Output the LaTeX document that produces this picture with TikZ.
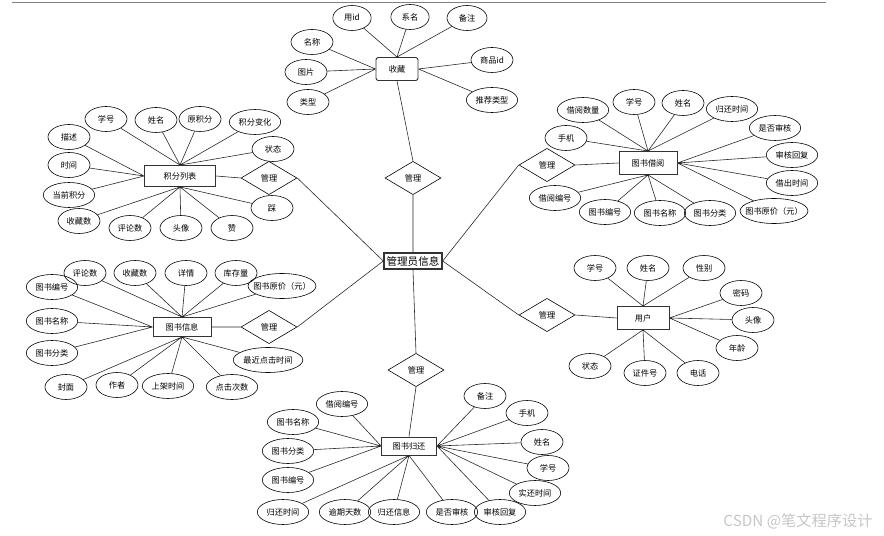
\documentclass[tikz,border=0pt]{standalone}
\usepackage{fontspec}
\usepackage{tikz}
\usetikzlibrary{shapes.geometric}
\newfontfamily\cjk{Noto Sans CJK SC}

\begin{document}
\begin{tikzpicture}[x=0.03cm, y=-0.03cm, font=\cjk\fontsize{7}{8}\selectfont,
			entity/.style={draw=black!80, rectangle, line width=0.8pt, minimum height=0.66cm, inner sep=1pt},
			attr/.style={draw, ellipse, line width=0.5pt, minimum width=1.26cm, minimum height=0.75cm, inner xsep=1.5pt, inner ysep=0pt},
			attrwide/.style={attr, inner xsep=0pt},
			attrlong/.style={attr, inner xsep=-4pt},
			relation/.style={draw, diamond, line width=0.5pt, minimum width=1.68cm, minimum height=1cm, inner sep=0pt},
			link/.style={draw=black!85, line width=0.5pt}
			]
			\useasboundingbox (0,0) rectangle (884,536);
			\draw[gray, line width=0.8pt] (12,2) -- (826,2);
			
			\node [entity, line width=1.2pt, minimum width=1.74cm, minimum height=0.48cm, font=\cjk\fontsize{9}{10}\selectfont](admin) at (413,261) {管理员信息};
			
			\node [relation](m1) at (413,178) {管理};
			\node [relation](m2) at (269,178) {管理};
			\node [relation](m3) at (547,165) {管理};
			\node [relation](m4) at (269,327) {管理};
			\node [relation](m5) at (547,315) {管理};
			\node [relation](m6) at (416,370) {管理};
			
			\node [entity, rounded corners=2pt, minimum width=1.26cm, minimum height=0.69cm](fav) at (397,69) {收藏};
			\node [attr, minimum width=1.15cm](fav1) at (352,18) {用id};
			\node [attr, minimum width=1.15cm](fav2) at (410,17) {系名};
			\node [attr, minimum width=1.2cm](fav3) at (467,18) {备注};
			\node [attr](fav4) at (312,42) {名称};
			\node [attr](fav5) at (306,72) {图片};
			\node [attr](fav6) at (308,102) {类型};
			\node [attr](fav7) at (492,60) {商品id};
			\node [attr](fav8) at (492,100) {推荐类型};
			
			\node [entity, minimum width=2.13cm, minimum height=0.63cm](pt) at (180,176) {积分列表};
			\node [attr](pt1) at (106,119) {学号};
			\node [attr](pt2) at (156,120) {姓名};
			\node [attr](pt3) at (200,119) {原积分};
			\node [attr](pt4) at (255,122) {积分变化};
			\node [attr](pt5) at (273,149) {状态};
			\node [attr](pt6) at (69,137) {描述};
			\node [attr](pt7) at (69,165) {时间};
			\node [attr](pt8) at (69,195) {当前积分};
			\node [attr](pt9) at (79,221) {收藏数};
			\node [attr](pt10) at (130,228) {评论数};
			\node [attr](pt11) at (181,228) {头像};
			\node [attr](pt12) at (232,228) {赞};
			\node [attr](pt13) at (272,208) {踩};
			
			\node [entity, minimum width=1.74cm, minimum height=0.69cm](br) at (648,163) {图书借阅};
			\node [attr](br1) at (583,110) {借阅数量};
			\node [attr](br2) at (634,102) {学号};
			\node [attr](br3) at (683,103) {姓名};
			\node [attr](br4) at (732,109) {归还时间};
			\node [attr](br5) at (566,138) {手机};
			\node [attr](br6) at (775,128) {是否审核};
			\node [attr](br7) at (792,155) {审核回复};
			\node [attr](br8) at (792,183) {借出时间};
			\node [attrlong](br9) at (774,211) {图书原价（元）};
			\node [attr](br10) at (555,198) {借阅编号};
			\node [attr](br11) at (605,212) {图书编号};
			\node [attr](br12) at (660,213) {图书名称};
			\node [attr](br13) at (710,213) {图书分类};
			
			\node [entity, minimum width=1.74cm, minimum height=0.57cm](bk) at (182,327) {图书信息};
			\node [attr](bk1) at (85,273) {评论数};
			\node [attr](bk2) at (135,273) {收藏数};
			\node [attr](bk3) at (186,273) {详情};
			\node [attr](bk4) at (236,273) {库存量};
			\node [attrlong](bk5) at (282,286) {图书原价（元）};
			\node [attr](bk6) at (52,287) {图书编号};
			\node [attr](bk7) at (52,321) {图书名称};
			\node [attr](bk8) at (52,353) {图书分类};
			\node [attrwide](bk9) at (268,360) {最近点击时间};
			\node [attr](bk10) at (66,387) {封面};
			\node [attr](bk11) at (117,385) {作者};
			\node [attr](bk12) at (168,386) {上架时间};
			\node [attr](bk13) at (232,387) {点击次数};
			
			\node [entity, minimum width=1.56cm, minimum height=0.69cm](us) at (643,318) {用户};
			\node [attr](us1) at (595,268) {学号};
			\node [attr](us2) at (648,268) {姓名};
			\node [attr](us3) at (704,268) {性别};
			\node [attr](us4) at (741,293) {密码};
			\node [attr](us5) at (753,320) {头像};
			\node [attr](us6) at (737,348) {年龄};
			\node [attr](us7) at (590,366) {状态};
			\node [attr](us8) at (645,373) {证件号};
			\node [attr](us9) at (698,373) {电话};
			
			\node [entity, minimum width=1.65cm, minimum height=0.54cm](rt) at (409,446) {图书归还};
			\node [attr](rt1) at (342,404) {借阅编号};
			\node [attr](rt2) at (293,422) {图书名称};
			\node [attr](rt3) at (288,451) {图书分类};
			\node [attr](rt4) at (288,480) {图书编号};
			\node [attr](rt5) at (283,512) {归还时间};
			\node [attr](rt6) at (345,512) {逾期天数};
			\node [attr](rt7) at (394,512) {归还信息};
			\node [attr](rt8) at (452,512) {是否审核};
			\node [attr](rt9) at (500,512) {审核回复};
			\node [attr](rt10) at (485,396) {备注};
			\node [attr](rt11) at (527,413) {手机};
			\node [attr](rt12) at (542,442) {姓名};
			\node [attr](rt13) at (548,468) {学号};
			\node [attr](rt14) at (535,493) {实还时间};
			
			\node [text=gray!45, font=\fontsize{13}{15}\selectfont\cjk](mark) at (798,521) {CSDN @笔文程序设计};
			
			\draw[link] (admin.north) -- (m1.south) (m1.north) -- (fav.south);
			\draw[link] (admin.west) -- (m2.east) (m2.west) -- (pt.east);
			\draw[link] (admin.east) -- (m3.west) (m3.east) -- (br.west);
			\draw[link] (admin.west) -- (m4.east) (m4.west) -- (bk.east);
			\draw[link] (admin.east) -- (m5.west) (m5.east) -- (us.west);
			\draw[link] (admin.south) -- (m6.north) (m6.south) -- (rt.north);
			
			\draw[link] (fav.north) -- (fav1) (fav.north) -- (fav2) (fav.north) -- (fav3);
			\draw[link] (fav.west) -- (fav4) (fav.west) -- (fav5) (fav.west) -- (fav6);
			\draw[link] (fav.east) -- (fav7) (fav.east) -- (fav8);
			
			\draw[link] (pt.north) -- (pt1) (pt.north) -- (pt2) (pt.north) -- (pt3) (pt.north) -- (pt4) (pt.north) -- (pt5);
			\draw[link] (pt.west) -- (pt6) (pt.west) -- (pt7) (pt.west) -- (pt8);
			\draw[link] (pt.south) -- (pt9) (pt.south) -- (pt10) (pt.south) -- (pt11) (pt.south) -- (pt12) (pt.south) -- (pt13);
			
			\draw[link] (br.north) -- (br1) (br.north) -- (br2) (br.north) -- (br3) (br.north) -- (br4) (br.north) -- (br5);
			\draw[link] (br.east) -- (br6) (br.east) -- (br7) (br.east) -- (br8) (br.east) -- (br9);
			\draw[link] (br.south) -- (br10) (br.south) -- (br11) (br.south) -- (br12) (br.south) -- (br13);
			
			\draw[link] (bk.north) -- (bk1) (bk.north) -- (bk2) (bk.north) -- (bk3) (bk.north) -- (bk4) (bk.north) -- (bk5);
			\draw[link] (bk.west) -- (bk6) (bk.west) -- (bk7) (bk.west) -- (bk8);
			\draw[link] (bk.south) -- (bk9) (bk.south) -- (bk10) (bk.south) -- (bk11) (bk.south) -- (bk12) (bk.south) -- (bk13);
			
			\draw[link] (us.north) -- (us1) (us.north) -- (us2) (us.north) -- (us3);
			\draw[link] (us.east) -- (us4) (us.east) -- (us5) (us.east) -- (us6);
			\draw[link] (us.south) -- (us7) (us.south) -- (us8) (us.south) -- (us9);
			
			\draw[link] (rt.west) -- (rt1) (rt.west) -- (rt2) (rt.west) -- (rt3) (rt.west) -- (rt4);
			\draw[link] (rt.south) -- (rt5) (rt.south) -- (rt6) (rt.south) -- (rt7) (rt.south) -- (rt8);
			\draw[link] (rt.east) -- (rt9) (rt.east) -- (rt10) (rt.east) -- (rt11) (rt.east) -- (rt12) (rt.east) -- (rt13) (rt.east) -- (rt14);
		\end{tikzpicture}
\end{document}
